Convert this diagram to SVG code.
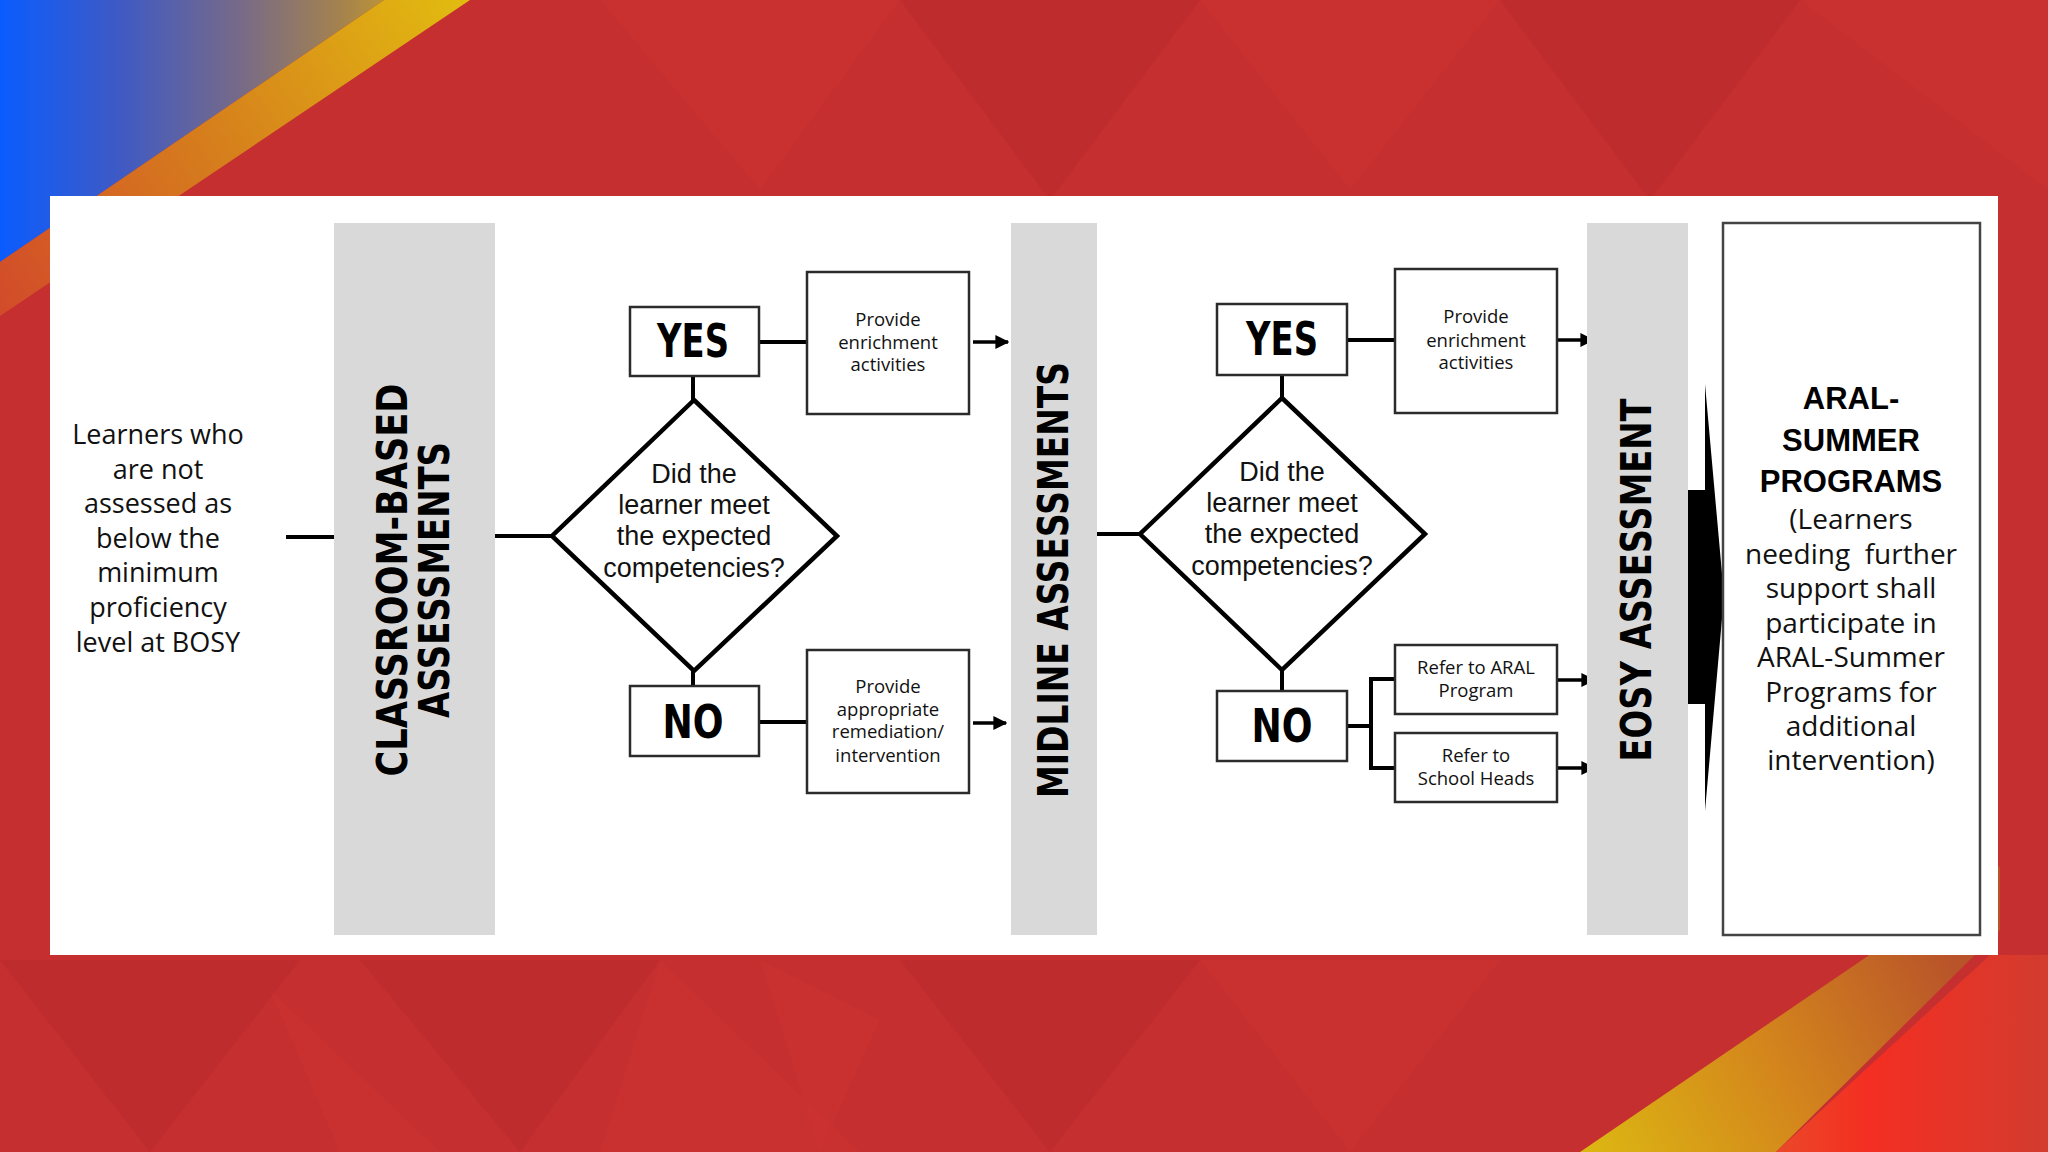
<svg xmlns="http://www.w3.org/2000/svg" width="2048" height="1152" viewBox="0 0 2048 1152">
<defs>
<linearGradient id="blueG" x1="0" y1="0" x2="400" y2="0" gradientUnits="userSpaceOnUse">
<stop offset="0" stop-color="#0a5cff"/><stop offset="0.3" stop-color="#3f5ac4"/><stop offset="0.6" stop-color="#776a88"/><stop offset="0.85" stop-color="#a4824e"/><stop offset="1" stop-color="#c29a30"/>
</linearGradient>
<linearGradient id="stripeTL" x1="0" y1="320" x2="470" y2="0" gradientUnits="userSpaceOnUse">
<stop offset="0" stop-color="#d24a2a"/><stop offset="0.5" stop-color="#d6801c"/><stop offset="1" stop-color="#e2bc10"/>
</linearGradient>
<linearGradient id="stripeBR" x1="1580" y1="1152" x2="1950" y2="950" gradientUnits="userSpaceOnUse">
<stop offset="0" stop-color="#dcb812"/><stop offset="0.5" stop-color="#d4861c"/><stop offset="1" stop-color="#b8532a"/>
</linearGradient>
<linearGradient id="brightBR" x1="1750" y1="0" x2="2048" y2="0" gradientUnits="userSpaceOnUse">
<stop offset="0" stop-color="#e8502a"/><stop offset="0.4" stop-color="#f42e22"/><stop offset="1" stop-color="#d23c2e"/>
</linearGradient>
<marker id="ah" viewBox="0 0 10 10" refX="9" refY="5" markerWidth="4" markerHeight="4" markerUnits="strokeWidth" orient="auto">
<path d="M0,0 L10,5 L0,10 z" fill="#000"/>
</marker>
<style>
.band{fill:#d9d9d9}
.box{fill:#fff;stroke:#2b2b2b;stroke-width:2.5}
.dia{fill:#fff;stroke:#000;stroke-width:4.5}
.ln{fill:none;stroke:#000;stroke-width:4}
.arr{fill:none;stroke:#000;stroke-width:3.5;marker-end:url(#ah)}
.t{font-family:"Open Sans","Noto Sans",sans-serif;fill:#111;text-anchor:middle}
.lt{font-size:27px}
.st{font-size:18.5px}
.dt{font-family:"Liberation Sans",Arial,sans-serif;font-size:27px;fill:#111;text-anchor:middle}
.yn{font-family:"DejaVu Sans Condensed","DejaVu Sans",sans-serif;font-weight:bold;font-size:46px;fill:#000;text-anchor:middle}
.vt{font-family:"DejaVu Sans Condensed","DejaVu Sans",sans-serif;font-weight:bold;font-size:42px;fill:#000;text-anchor:middle}
.hb{font-family:"Liberation Sans",Arial,sans-serif;font-weight:bold;font-size:31px;fill:#000;text-anchor:middle}
.pat1{fill:#d03535;opacity:0.35}
.pat2{fill:#b5272a;opacity:0.35}
</style>
</defs>

<g id="background">
<rect x="0" y="0" width="2048" height="1152" fill="#c52f2f"/>
<polygon class="pat1" points="600,0 900,0 760,190"/>
<polygon class="pat2" points="900,0 1200,0 1050,200"/>
<polygon class="pat1" points="1200,0 1500,0 1350,190"/>
<polygon class="pat2" points="1500,0 1800,0 1650,200"/>
<polygon class="pat1" points="1800,0 2048,0 2048,190"/>
<polygon class="pat2" points="0,960 300,960 150,1152"/>
<polygon class="pat1" points="270,990 440,1152 340,1152"/>
<polygon class="pat2" points="360,960 660,960 520,1152"/>
<polygon class="pat1" points="660,960 860,1152 600,1152"/>
<polygon class="pat1" points="760,960 880,1020 820,1152"/>
<polygon class="pat2" points="900,960 1200,960 1050,1152"/>
<polygon class="pat1" points="1200,960 1500,960 1350,1152"/>
<polygon points="0,0 384,0 0,262" fill="url(#blueG)"/>
<polygon points="384,0 470,0 0,316 0,262" fill="url(#stripeTL)"/>
<polygon points="1580,1152 2000,866 2000,930 1776,1152" fill="url(#stripeBR)"/>
<polygon points="1776,1152 1990,955 2048,955 2048,1152" fill="url(#brightBR)"/>
<rect x="50" y="196" width="1948" height="759" fill="#fff"/>
</g>

<g id="connectors">
<line class="ln" x1="286" y1="537" x2="334" y2="537"/>
<line class="ln" x1="495" y1="536" x2="552" y2="536"/>
<line class="ln" x1="693" y1="376" x2="693" y2="402"/>
<line class="ln" x1="693" y1="670" x2="693" y2="686"/>
<line class="ln" x1="759" y1="342" x2="807" y2="342"/>
<line class="ln" x1="759" y1="722" x2="807" y2="722"/>
<line class="arr" x1="973" y1="342" x2="1008" y2="342"/>
<line class="arr" x1="973" y1="723" x2="1006" y2="723"/>
<line class="ln" x1="1097" y1="534" x2="1140" y2="534"/>
<line class="ln" x1="1282" y1="375" x2="1282" y2="400"/>
<line class="ln" x1="1282" y1="669" x2="1282" y2="691"/>
<line class="ln" x1="1347" y1="340" x2="1395" y2="340"/>
<line class="ln" x1="1347" y1="726" x2="1371" y2="726"/>
<polyline class="ln" points="1395,679 1371,679 1371,768 1395,768"/>
<line class="arr" x1="1558" y1="340" x2="1593" y2="340"/>
<line class="arr" x1="1558" y1="680" x2="1594" y2="680"/>
<line class="arr" x1="1558" y1="768" x2="1594" y2="768"/>
<path d="M1686,490 L1705,490 L1705,384 L1724,596 L1705,811 L1705,704 L1686,704 Z" fill="#000"/>
</g>

<g id="learners">
<text class="t lt"><tspan x="158" y="444">Learners who</tspan><tspan x="158" y="479">are not</tspan><tspan x="158" y="513">assessed as</tspan><tspan x="158" y="548">below the</tspan><tspan x="158" y="582">minimum</tspan><tspan x="158" y="617">proficiency</tspan><tspan x="158" y="652">level at BOSY</tspan></text>
</g>

<g id="cba">
<rect class="band" x="334" y="223" width="161" height="712"/>
<text class="vt" transform="translate(407,580) rotate(-90)" x="0" y="0" textLength="393" lengthAdjust="spacingAndGlyphs">CLASSROOM-BASED</text>
<text class="vt" transform="translate(449,580) rotate(-90)" x="0" y="0" textLength="276" lengthAdjust="spacingAndGlyphs">ASSESSMENTS</text>
</g>

<g id="decision1">
<polygon class="dia" points="694,400 837,536 694,671 552,536"/>
<text class="dt"><tspan x="694" y="483">Did the</tspan><tspan x="694" y="514">learner meet</tspan><tspan x="694" y="545">the expected</tspan><tspan x="694" y="577">competencies?</tspan></text>
</g>

<g id="yes1">
<rect class="box" x="630" y="307" width="129" height="69"/>
<text class="yn" x="693" y="357" textLength="72" lengthAdjust="spacingAndGlyphs">YES</text>
</g>
<g id="no1">
<rect class="box" x="630" y="686" width="129" height="70"/>
<text class="yn" x="693" y="738" textLength="61" lengthAdjust="spacingAndGlyphs">NO</text>
</g>
<g id="enrich1">
<rect class="box" x="807" y="272" width="162" height="142"/>
<text class="t st"><tspan x="888" y="326">Provide</tspan><tspan x="888" y="349">enrichment</tspan><tspan x="888" y="371">activities</tspan></text>
</g>
<g id="remed1">
<rect class="box" x="807" y="650" width="162" height="143"/>
<text class="t st"><tspan x="888" y="693">Provide</tspan><tspan x="888" y="716">appropriate</tspan><tspan x="888" y="738">remediation/</tspan><tspan x="888" y="762">intervention</tspan></text>
</g>

<g id="midline">
<rect class="band" x="1011" y="223" width="86" height="712"/>
<text class="vt" transform="translate(1068,580) rotate(-90)" x="0" y="0" textLength="436" lengthAdjust="spacingAndGlyphs">MIDLINE ASSESSMENTS</text>
</g>

<g id="decision2">
<polygon class="dia" points="1282,398 1425,534 1282,670 1140,534"/>
<text class="dt"><tspan x="1282" y="481">Did the</tspan><tspan x="1282" y="512">learner meet</tspan><tspan x="1282" y="543">the expected</tspan><tspan x="1282" y="575">competencies?</tspan></text>
</g>
<g id="yes2">
<rect class="box" x="1217" y="304" width="130" height="71"/>
<text class="yn" x="1282" y="355" textLength="72" lengthAdjust="spacingAndGlyphs">YES</text>
</g>
<g id="no2">
<rect class="box" x="1217" y="691" width="130" height="70"/>
<text class="yn" x="1282" y="742" textLength="61" lengthAdjust="spacingAndGlyphs">NO</text>
</g>
<g id="enrich2">
<rect class="box" x="1395" y="269" width="162" height="144"/>
<text class="t st"><tspan x="1476" y="323">Provide</tspan><tspan x="1476" y="347">enrichment</tspan><tspan x="1476" y="369">activities</tspan></text>
</g>
<g id="refer-aral">
<rect class="box" x="1395" y="645" width="162" height="69"/>
<text class="t st"><tspan x="1476" y="674">Refer to ARAL</tspan><tspan x="1476" y="697">Program</tspan></text>
</g>
<g id="refer-heads">
<rect class="box" x="1395" y="733" width="162" height="69"/>
<text class="t st"><tspan x="1476" y="762">Refer to</tspan><tspan x="1476" y="785">School Heads</tspan></text>
</g>

<g id="eosy">
<rect class="band" x="1587" y="223" width="101" height="712"/>
<text class="vt" transform="translate(1651,580) rotate(-90)" x="0" y="0" textLength="363" lengthAdjust="spacingAndGlyphs">EOSY ASSESSMENT</text>
</g>

<g id="aral-summer">
<rect x="1723" y="223" width="257" height="712" fill="#fff" stroke="#444" stroke-width="2.5"/>
<text class="hb"><tspan x="1851" y="409">ARAL-</tspan><tspan x="1851" y="451">SUMMER</tspan><tspan x="1851" y="492">PROGRAMS</tspan></text>
<text class="t" style="font-size:28px"><tspan x="1851" y="529">(Learners</tspan><tspan x="1851" y="564">needing&#160; further</tspan><tspan x="1851" y="598">support shall</tspan><tspan x="1851" y="633">participate in</tspan><tspan x="1851" y="667">ARAL-Summer</tspan><tspan x="1851" y="702">Programs for</tspan><tspan x="1851" y="736">additional</tspan><tspan x="1851" y="770">intervention)</tspan></text>
</g>
</svg>
